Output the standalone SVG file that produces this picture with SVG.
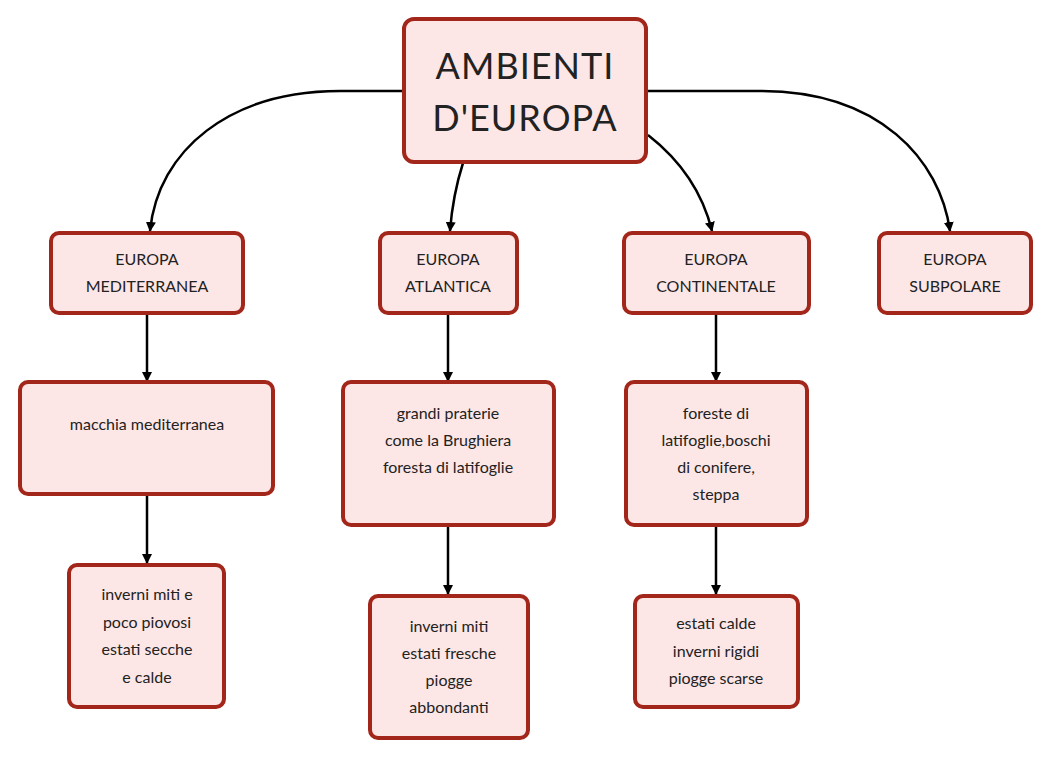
<svg xmlns="http://www.w3.org/2000/svg" width="1051" height="759" viewBox="0 0 1051 759">
<style>
.n{fill:#fde6e6;stroke:#a3261b;stroke-width:4}
.t{font-family:Lato,"Open Sans",sans-serif;font-size:16px;fill:#222;text-anchor:middle}
.r{font-family:Lato,"Open Sans",sans-serif;font-size:36px;fill:#222;text-anchor:middle;letter-spacing:1px}
.c{fill:none;stroke:#000;stroke-width:2.5;marker-end:url(#a)}
</style>
<defs><marker id="a" viewBox="0 0 10 10" refX="9" refY="5" markerWidth="4" markerHeight="4" orient="auto"><path d="M0,0L10,5L0,10z" fill="#000"/></marker></defs>
<rect width="1051" height="759" fill="#fff"/>
<g id="connectors">
<path class="c" d="M404,91L340,91C230,91 158,150 150,231"/>
<path class="c" d="M463,163C456,185 452,205 450,231"/>
<path class="c" d="M648,135C680,160 702,190 712,231"/>
<path class="c" d="M646,91L760,91C880,91 940,160 950,231"/>
<path class="c" d="M147,314V381"/><path class="c" d="M147,495V563"/>
<path class="c" d="M448,314V381"/><path class="c" d="M448,526V594"/>
<path class="c" d="M716,314V381"/><path class="c" d="M716,526V594"/>
</g>
<g id="root"><rect class="n" x="404" y="19" width="242" height="143" rx="10"/><text class="r" x="525" y="79">AMBIENTI</text><text class="r" x="525" y="131">D'EUROPA</text></g>
<g id="med"><rect class="n" x="51" y="233" width="192" height="80" rx="8"/><text class="t" x="147" y="265">EUROPA</text><text class="t" x="147" y="292">MEDITERRANEA</text></g>
<g id="atl"><rect class="n" x="380" y="233" width="137" height="80" rx="8"/><text class="t" x="448" y="265">EUROPA</text><text class="t" x="448" y="292">ATLANTICA</text></g>
<g id="con"><rect class="n" x="624" y="233" width="185" height="80" rx="8"/><text class="t" x="716" y="265">EUROPA</text><text class="t" x="716" y="292">CONTINENTALE</text></g>
<g id="sub"><rect class="n" x="879" y="233" width="152" height="80" rx="8"/><text class="t" x="955" y="265">EUROPA</text><text class="t" x="955" y="292">SUBPOLARE</text></g>
<g id="macchia"><rect class="n" x="20" y="382" width="253" height="112" rx="8"/><text class="t" x="147" y="430">macchia mediterranea</text></g>
<g id="grandi"><rect class="n" x="343" y="382" width="211" height="143" rx="8"/><text class="t" x="448" y="419">grandi praterie</text><text class="t" x="448" y="446">come la Brughiera</text><text class="t" x="448" y="473">foresta di latifoglie</text></g>
<g id="foreste"><rect class="n" x="626" y="382" width="181" height="143" rx="8"/><text class="t" x="716" y="419">foreste di</text><text class="t" x="716" y="446">latifoglie,boschi</text><text class="t" x="716" y="473">di conifere,</text><text class="t" x="716" y="500">steppa</text></g>
<g id="inv1"><rect class="n" x="69" y="565" width="155" height="142" rx="8"/><text class="t" x="147" y="600">inverni miti e</text><text class="t" x="147" y="628">poco piovosi</text><text class="t" x="147" y="655">estati secche</text><text class="t" x="147" y="683">e calde</text></g>
<g id="inv2"><rect class="n" x="370" y="596" width="158" height="142" rx="8"/><text class="t" x="449" y="632">inverni miti</text><text class="t" x="449" y="659">estati fresche</text><text class="t" x="449" y="686">piogge</text><text class="t" x="449" y="713">abbondanti</text></g>
<g id="est"><rect class="n" x="635" y="596" width="163" height="111" rx="8"/><text class="t" x="716" y="629">estati calde</text><text class="t" x="716" y="657">inverni rigidi</text><text class="t" x="716" y="684">piogge scarse</text></g>
</svg>
